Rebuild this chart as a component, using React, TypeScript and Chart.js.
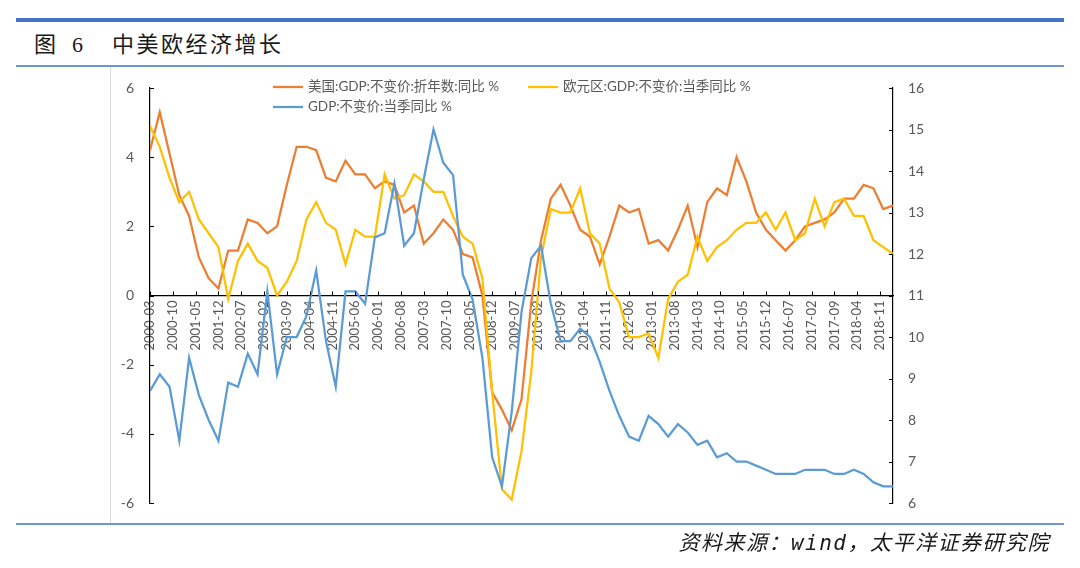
import React, { useEffect, useRef } from "react";
import { Chart, registerables } from "chart.js";

Chart.register(...registerables);

// Quarter-end dates of the series
const quarters = [
  "2000-03", "2000-06", "2000-09", "2000-12",
  "2001-03", "2001-06", "2001-09", "2001-12",
  "2002-03", "2002-06", "2002-09", "2002-12",
  "2003-03", "2003-06", "2003-09", "2003-12",
  "2004-03", "2004-06", "2004-09", "2004-12",
  "2005-03", "2005-06", "2005-09", "2005-12",
  "2006-03", "2006-06", "2006-09", "2006-12",
  "2007-03", "2007-06", "2007-09", "2007-12",
  "2008-03", "2008-06", "2008-09", "2008-12",
  "2009-03", "2009-06", "2009-09", "2009-12",
  "2010-03", "2010-06", "2010-09", "2010-12",
  "2011-03", "2011-06", "2011-09", "2011-12",
  "2012-03", "2012-06", "2012-09", "2012-12",
  "2013-03", "2013-06", "2013-09", "2013-12",
  "2014-03", "2014-06", "2014-09", "2014-12",
  "2015-03", "2015-06", "2015-09", "2015-12",
  "2016-03", "2016-06", "2016-09", "2016-12",
  "2017-03", "2017-06", "2017-09", "2017-12",
  "2018-03", "2018-06", "2018-09", "2018-12",
  "2019-03",
];

// 美国 GDP 不变价 折年数 同比 (%), left axis
const usGdp = [
  4.2, 5.3, 4.1, 2.9,
  2.3, 1.1, 0.5, 0.2,
  1.3, 1.3, 2.2, 2.1,
  1.8, 2.0, 3.2, 4.3,
  4.3, 4.2, 3.4, 3.3,
  3.9, 3.5, 3.5, 3.1,
  3.3, 3.2, 2.4, 2.6,
  1.5, 1.8, 2.2, 1.9,
  1.2, 1.1, 0.0, -2.8,
  -3.3, -3.9, -3.0, -0.2,
  1.6, 2.8, 3.2, 2.6,
  1.9, 1.7, 0.9, 1.7,
  2.6, 2.4, 2.5, 1.5,
  1.6, 1.3, 1.9, 2.6,
  1.4, 2.7, 3.1, 2.9,
  4.0, 3.3, 2.4, 1.9,
  1.6, 1.3, 1.6, 2.0,
  2.1, 2.2, 2.4, 2.8,
  2.8, 3.2, 3.1, 2.5,
  2.6,
];

// 欧元区 GDP 不变价 当季同比 (%), left axis
const euroGdp = [
  4.9, 4.3, 3.4, 2.7,
  3.0, 2.2, 1.8, 1.4,
  -0.1, 1.0, 1.5, 1.0,
  0.8, 0.0, 0.4, 1.0,
  2.2, 2.7, 2.1, 1.9,
  0.9, 1.9, 1.7, 1.7,
  3.5, 2.8, 2.9, 3.5,
  3.3, 3.0, 3.0, 2.3,
  1.7, 1.5, 0.5, -2.8,
  -5.6, -5.9, -4.5, -2.2,
  1.1, 2.5, 2.4, 2.4,
  3.1, 1.8, 1.5, 0.2,
  -0.2, -1.2, -1.2, -1.1,
  -1.8, -0.1, 0.4, 0.6,
  1.7, 1.0, 1.4, 1.6,
  1.9, 2.1, 2.1, 2.4,
  1.9, 2.4, 1.6, 1.8,
  2.8, 2.0, 2.7, 2.8,
  2.3, 2.3, 1.6, 1.4,
  1.2,
];

// 中国 GDP 不变价 当季同比 (%), right axis
const chinaGdp = [
  8.7, 9.1, 8.8, 7.5,
  9.5, 8.6, 8.0, 7.5,
  8.9, 8.8, 9.6, 9.1,
  11.1, 9.1, 10.0, 10.0,
  10.5, 11.6, 9.9, 8.8,
  11.1, 11.1, 10.8, 12.4,
  12.5, 13.7, 12.2, 12.5,
  13.8, 15.0, 14.2, 13.9,
  11.5, 10.9, 9.5, 7.1,
  6.4, 8.2, 10.6, 11.9,
  12.2, 10.8, 9.9, 9.9,
  10.2, 10.0, 9.4, 8.7,
  8.1, 7.6, 7.5, 8.1,
  7.9, 7.6, 7.9, 7.7,
  7.4, 7.5, 7.1, 7.2,
  7.0, 7.0, 6.9, 6.8,
  6.7, 6.7, 6.7, 6.8,
  6.8, 6.8, 6.7, 6.7,
  6.8, 6.7, 6.5, 6.4,
  6.4,
];

// Date-axis labels, one every seven months
const xTickLabels = [
  "2000-03", "2000-10", "2001-05", "2001-12", "2002-07", "2003-02", "2003-09",
  "2004-04", "2004-11", "2005-06", "2006-01", "2006-08", "2007-03", "2007-10",
  "2008-05", "2008-12", "2009-07", "2010-02", "2010-09", "2011-04", "2011-11",
  "2012-06", "2013-01", "2013-08", "2014-03", "2014-10", "2015-05", "2015-12",
  "2016-07", "2017-02", "2017-09", "2018-04", "2018-11",
];

const seriesNames = [
  "美国:GDP:不变价:折年数:同比 %",
  "欧元区:GDP:不变价:当季同比 %",
  "GDP:不变价:当季同比 %",
];
const seriesColors = ["#ED7D31", "#FFC000", "#5B9BD5"];

const FONT = "Lato, 'Noto Sans CJK SC', sans-serif";
const LABEL_COLOR = "#595959";

// months elapsed since the first quarter, used as the x value
const monthOffset = (label: string) => {
  const [y, m] = label.split("-").map(Number);
  return (y - 2000) * 12 + (m - 3);
};

const tickLabelByValue = new Map<number, string>(
  xTickLabels.map((l) => [monthOffset(l), l])
);

const toPoints = (values: number[]) =>
  values.map((v, i) => ({ x: monthOffset(quarters[i]), y: v }));

// short tick marks drawn on the inner side of each axis
const insideTicks = {
  id: "insideTicks",
  afterDatasetsDraw(chart: any) {
    const { ctx, chartArea, scales } = chart;
    const len = 4;
    ctx.save();
    ctx.strokeStyle = "#000";
    ctx.lineWidth = 1;
    ctx.beginPath();
    const y0 = scales.y.getPixelForValue(0);
    scales.x.ticks.forEach((t: any) => {
      const px = Math.round(scales.x.getPixelForValue(t.value)) + 0.5;
      ctx.moveTo(px, y0);
      ctx.lineTo(px, y0 - len);
    });
    scales.y.ticks.forEach((t: any) => {
      const py = Math.round(scales.y.getPixelForValue(t.value)) + 0.5;
      ctx.moveTo(chartArea.left, py);
      ctx.lineTo(chartArea.left + len, py);
    });
    scales.y1.ticks.forEach((t: any) => {
      const py = Math.round(scales.y1.getPixelForValue(t.value)) + 0.5;
      ctx.moveTo(chartArea.right, py);
      ctx.lineTo(chartArea.right - len, py);
    });
    ctx.stroke();
    ctx.restore();
  },
};

// legend laid out in two rows over the top of the plot
const legendSpots = [
  { x: 273, y: 87 },
  { x: 528, y: 87 },
  { x: 273, y: 107 },
];
const overlayLegend = {
  id: "overlayLegend",
  afterDraw(chart: any) {
    const { ctx } = chart;
    ctx.save();
    ctx.font = `13.5px ${FONT}`;
    ctx.textBaseline = "middle";
    ctx.textAlign = "left";
    chart.data.datasets.forEach((ds: any, i: number) => {
      const spot = legendSpots[i];
      if (!spot) return;
      ctx.strokeStyle = ds.borderColor;
      ctx.lineWidth = 2.25;
      ctx.beginPath();
      ctx.moveTo(spot.x, spot.y);
      ctx.lineTo(spot.x + 30, spot.y);
      ctx.stroke();
      ctx.fillStyle = LABEL_COLOR;
      ctx.fillText(ds.label, spot.x + 35, spot.y);
    });
    ctx.restore();
  },
};

function GrowthChart() {
  const canvasRef = useRef<HTMLCanvasElement | null>(null);

  useEffect(() => {
    if (!canvasRef.current) return;
    const seriesValues = [usGdp, euroGdp, chinaGdp];
    const axisIds = ["y", "y", "y1"];
    const drawOrder = [3, 2, 1];
    const chart = new Chart(canvasRef.current, {
      type: "line",
      data: {
        datasets: seriesValues.map((vals, i) => ({
          label: seriesNames[i],
          data: toPoints(vals),
          yAxisID: axisIds[i],
          borderColor: seriesColors[i],
          backgroundColor: seriesColors[i],
          borderWidth: 2.25,
          pointRadius: 0,
          tension: 0,
          fill: false,
          order: drawOrder[i],
        })),
      },
      options: {
        responsive: false,
        animation: false,
        events: [],
        layout: { padding: { top: 88, bottom: 65, left: 0, right: 0 } },
        plugins: {
          legend: { display: false },
          tooltip: { enabled: false },
          title: { display: false },
        },
        scales: {
          x: {
            type: "linear",
            position: { y: 0 },
            min: monthOffset(quarters[0]),
            max: monthOffset(quarters[quarters.length - 1]),
            afterBuildTicks: (scale: any) => {
              scale.ticks = xTickLabels.map((l) => ({ value: monthOffset(l) }));
            },
            grid: { display: false, drawTicks: false, tickLength: 0 },
            border: { display: true, color: "#000", width: 1.2 },
            ticks: {
              autoSkip: false,
              includeBounds: false,
              minRotation: 90,
              maxRotation: 90,
              padding: 5,
              color: LABEL_COLOR,
              font: { family: FONT, size: 13 },
              callback: (v: any) => tickLabelByValue.get(Number(v)) ?? "",
            },
          },
          y: {
            type: "linear",
            position: "left",
            min: -6,
            max: 6,
            afterFit: (scale: any) => {
              scale.width = 150;
            },
            grid: { display: false, drawTicks: false, tickLength: 0 },
            border: { display: true, color: "#000", width: 1.2 },
            ticks: {
              stepSize: 2,
              padding: 16,
              color: LABEL_COLOR,
              font: { family: FONT, size: 14 },
            },
          },
          y1: {
            type: "linear",
            position: "right",
            min: 6,
            max: 16,
            afterFit: (scale: any) => {
              scale.width = 187;
            },
            grid: { display: false, drawTicks: false, tickLength: 0 },
            border: { display: true, color: "#000", width: 1.2 },
            ticks: {
              stepSize: 1,
              padding: 15,
              color: LABEL_COLOR,
              font: { family: FONT, size: 14 },
            },
          },
        },
      } as any,
      plugins: [insideTicks, overlayLegend],
    });
    return () => chart.destroy();
  }, []);

  return (
    <canvas
      ref={canvasRef}
      width={1080}
      height={568}
      style={{ position: "absolute", left: 0, top: 0, width: 1080, height: 568 }}
    />
  );
}

export default function App() {
  const rule = (top: number, height: number, color: string, left = 16, width = 1048) => (
    <div
      style={{ position: "absolute", left, top, width, height, background: color }}
    />
  );
  return (
    <div
      style={{
        position: "absolute",
        left: 0,
        top: 0,
        width: 1080,
        height: 568,
        background: "#fff",
        overflow: "hidden",
      }}
    >
      {rule(18, 4, "#4472C4")}
      <div
        style={{
          position: "absolute",
          left: 34,
          top: 30,
          fontFamily: "'Liberation Serif', 'Noto Sans CJK SC', serif",
          fontSize: 22,
          color: "#1a1a1a",
          whiteSpace: "pre",
          lineHeight: "30px",
        }}
      >
        <span>图</span>
        <span style={{ position: "absolute", left: 38, top: 0 }}>6</span>
        <span style={{ position: "absolute", left: 78, top: 0, letterSpacing: 2.5 }}>
          中美欧经济增长
        </span>
      </div>
      {rule(65, 2, "#7094D4")}
      {rule(67, 456, "#D9D9D9", 110, 1)}
      {rule(523, 2, "#7094D4")}
      <GrowthChart />
      <div
        style={{
          position: "absolute",
          right: 30,
          top: 529,
          fontFamily: "'DejaVu Sans Mono', 'Noto Sans CJK SC', sans-serif",
          fontStyle: "italic",
          fontSize: 21,
          letterSpacing: 1.5,
          color: "#1a1a1a",
          whiteSpace: "pre",
          lineHeight: "28px",
        }}
      >
        资料来源：wind，太平洋证券研究院
      </div>
    </div>
  );
}
